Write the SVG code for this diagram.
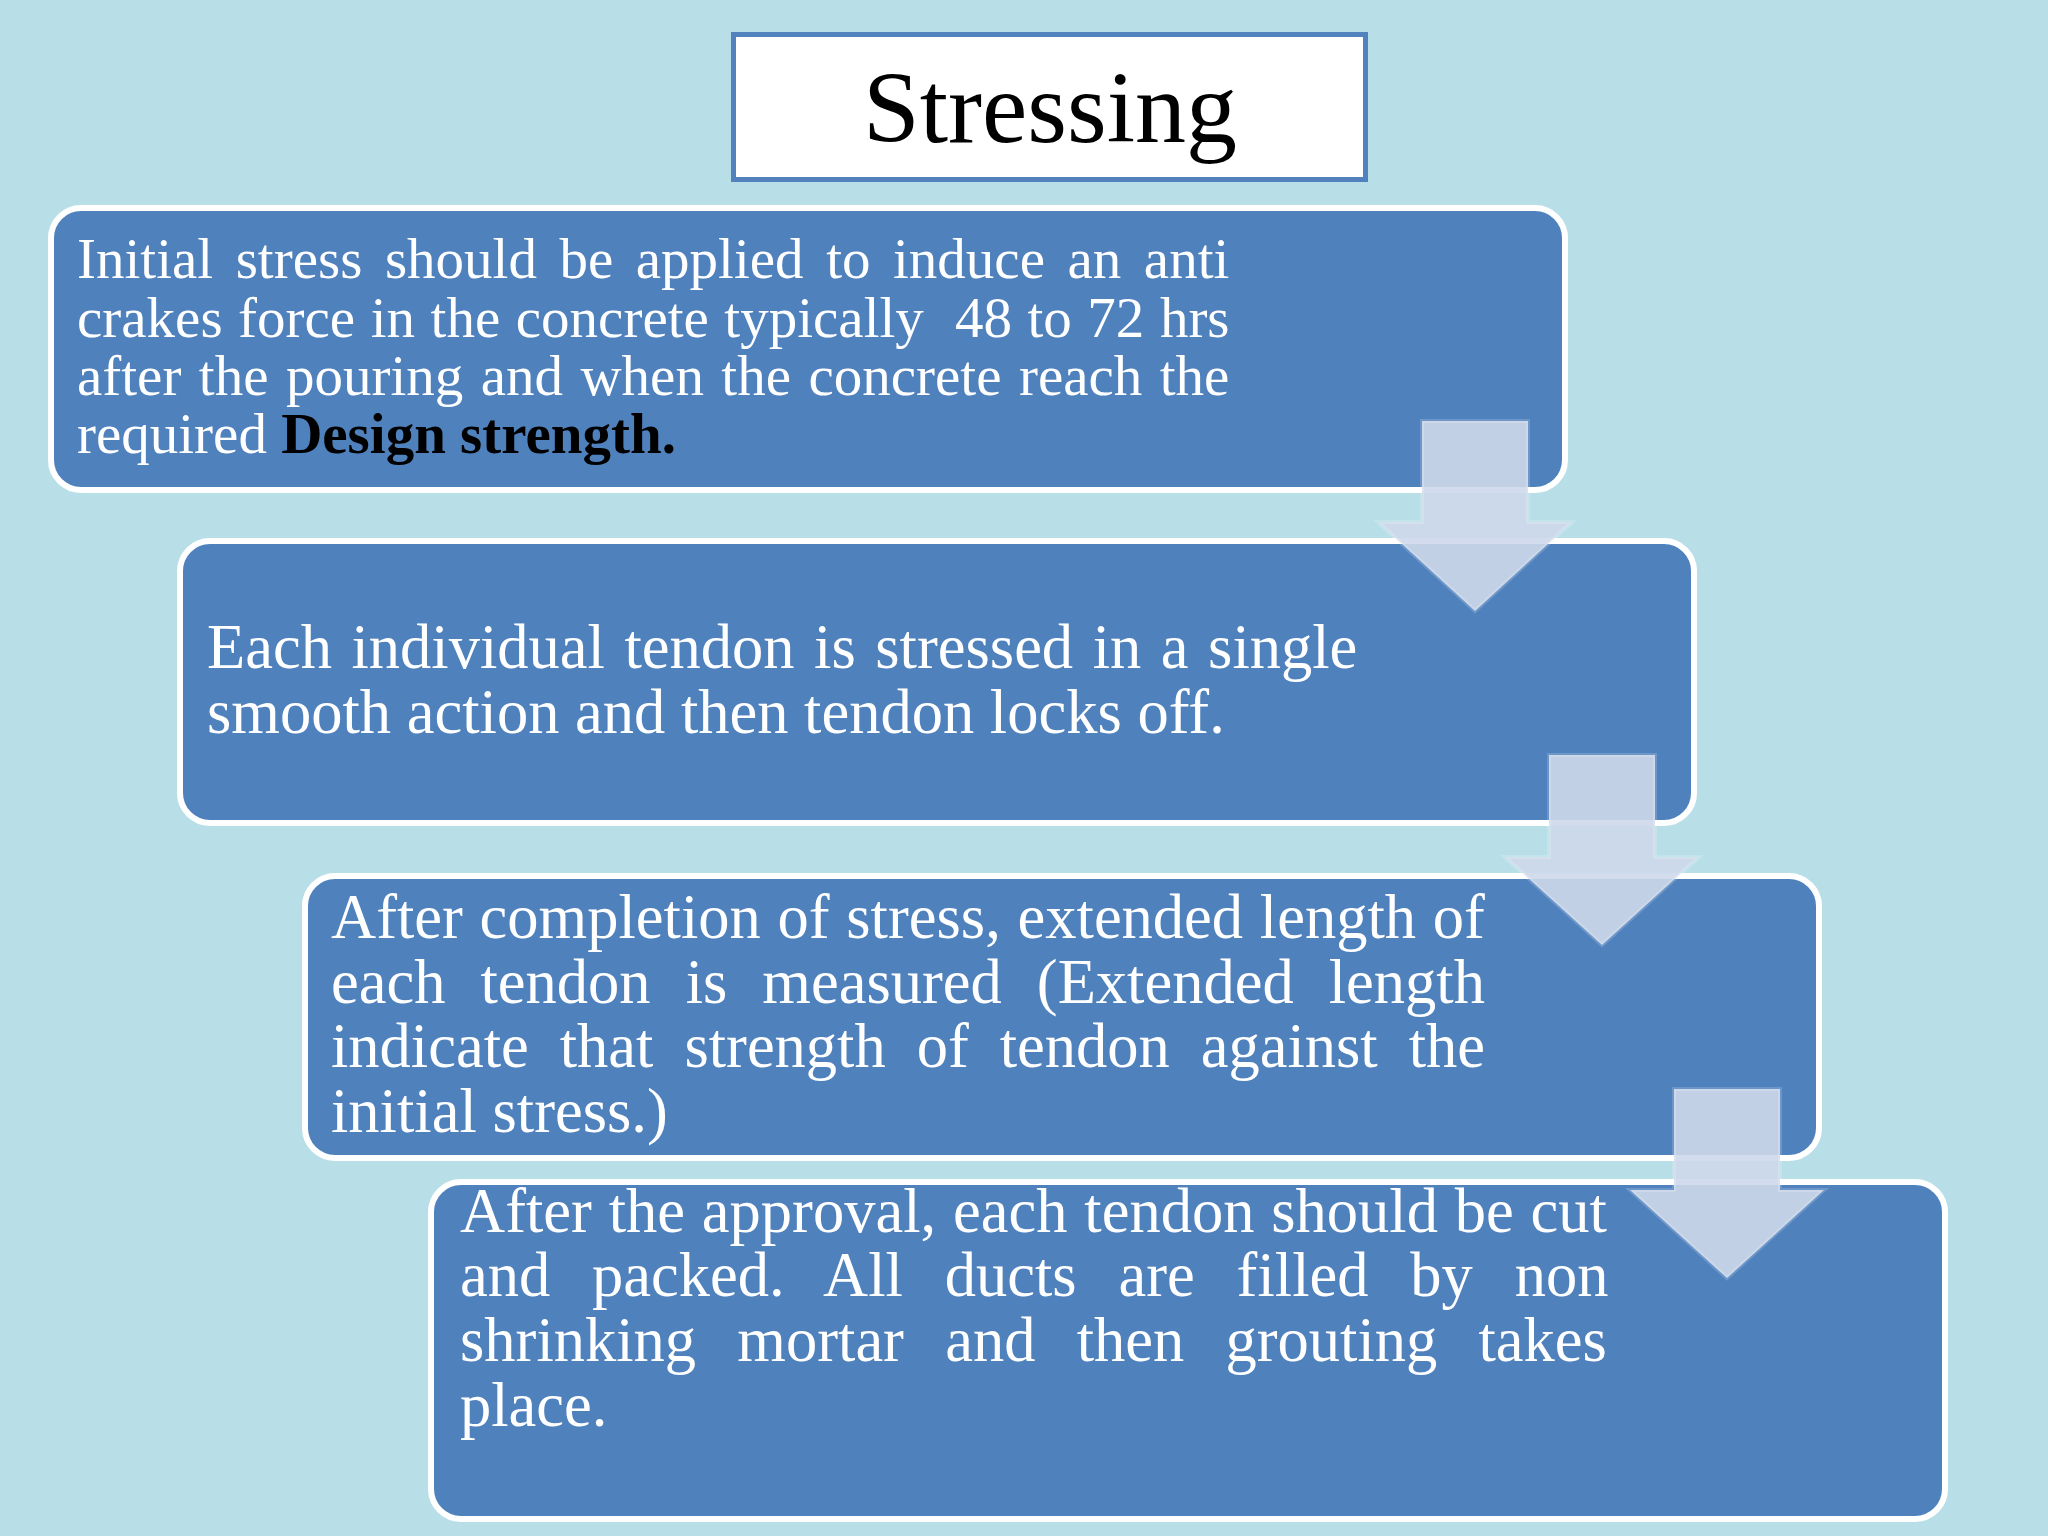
<svg xmlns="http://www.w3.org/2000/svg" width="2048" height="1536" viewBox="0 0 2048 1536">
<style>
.bg{fill:#b8dfe8}
.box{fill:#4f81bd;stroke:#ffffff;stroke-width:6}
.title{fill:#ffffff;stroke:#5282be;stroke-width:5}
.t{font-family:"Liberation Serif","Times New Roman",serif;fill:#ffffff}
.s57{font-size:57px}
.s62{font-size:62.5px}
.b{font-weight:bold;fill:#000000}
.arrow{fill:#ced8ea;fill-opacity:0.9;stroke:#ffffff;stroke-opacity:0.18;stroke-width:4}
</style>
<rect class="bg" x="0" y="0" width="2048" height="1536"/>

<g id="title">
<rect class="title" x="733.5" y="34.5" width="632" height="145"/>
<text x="1050" y="142" text-anchor="middle" font-family="Liberation Serif, Times New Roman, serif" font-size="102" fill="#000000">Stressing</text>
</g>

<g id="step1">
<rect class="box" x="51" y="208" width="1514" height="282" rx="30"/>
<text class="t s57" xml:space="preserve"><tspan x="77" y="278" word-spacing="8.3">Initial stress should be applied to induce an anti</tspan><tspan x="77" y="337" word-spacing="1.3">crakes force in the concrete typically  48 to 72 hrs</tspan><tspan x="77" y="395" word-spacing="3.2">after the pouring and when the concrete reach the</tspan><tspan x="77" y="453">required <tspan class="b">Design strength.</tspan></tspan></text>
</g>

<g id="step2">
<rect class="box" x="180" y="541" width="1514" height="282" rx="30"/>
<text class="t s62"><tspan x="207" y="668" word-spacing="3.9">Each individual tendon is stressed in a single</tspan><tspan x="207" y="733">smooth action and then tendon locks off.</tspan></text>
</g>

<g id="step3">
<rect class="box" x="305" y="876" width="1514" height="282" rx="30"/>
<text class="t s62"><tspan x="331" y="938" word-spacing="1.1">After completion of stress, extended length of</tspan><tspan x="331" y="1003" word-spacing="19.4">each tendon is measured (Extended length</tspan><tspan x="331" y="1067" word-spacing="15.3">indicate that strength of tendon against the</tspan><tspan x="331" y="1132">initial stress.)</tspan></text>
</g>

<g id="step4">
<rect class="box" x="431" y="1182" width="1514" height="337" rx="30"/>
<text class="t s62"><tspan x="460" y="1232" word-spacing="1.2">After the approval, each tendon should be cut</tspan><tspan x="460" y="1296" word-spacing="26.2">and packed. All ducts are filled by non</tspan><tspan x="460" y="1361" word-spacing="25.6">shrinking mortar and then grouting takes</tspan><tspan x="460" y="1426">place.</tspan></text>
</g>

<g id="connectors">
<polygon class="arrow" points="1422,421 1528,421 1528,522 1572,522 1475,611 1378,522 1422,522"/>
<polygon class="arrow" points="1549,755 1655,755 1655,857 1699,857 1602,945 1505,857 1549,857"/>
<polygon class="arrow" points="1674,1089 1780,1089 1780,1190 1824,1190 1727,1278 1630,1190 1674,1190"/>
</g>
</svg>
